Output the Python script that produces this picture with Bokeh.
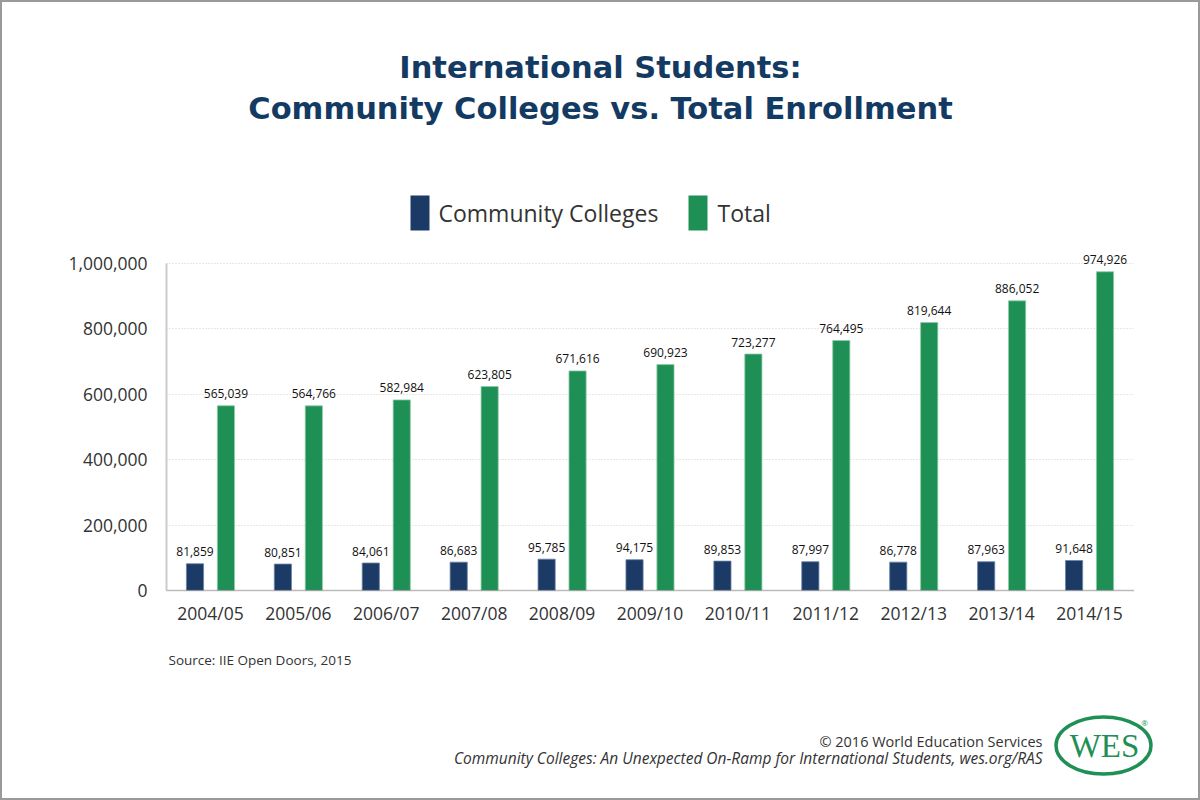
from bokeh.plotting import figure
from bokeh.layouts import column, row
from bokeh.models import (ColumnDataSource, FactorRange, Label, NumeralTickFormatter,
                          FixedTicker, Spacer, Range1d)
from bokeh.core.properties import value
from bokeh.transform import dodge
from bokeh.embed import file_html
from bokeh.resources import INLINE

years = ["2004/05", "2005/06", "2006/07", "2007/08", "2008/09", "2009/10",
         "2010/11", "2011/12", "2012/13", "2013/14", "2014/15"]
community = [81859, 80851, 84061, 86683, 95785, 94175, 89853, 87997, 86778, 87963, 91648]
total = [565039, 564766, 582984, 623805, 671616, 690923, 723277, 764495, 819644, 886052, 974926]
y_ticks = [0, 200000, 400000, 600000, 800000, 1000000]
series_names = ["Community Colleges", "Total"]

CC_COLOR = "#1b3a66"
TOT_COLOR = "#1f9055"
TITLE_COLOR = "#133a63"
TEXT_COLOR = "#333333"
BORDER = "#9a9a9a"
FONT = "Open Sans"


def blank_fig(h, y0, y1):
    f = figure(width=1196, height=h, x_range=Range1d(2, 1198), y_range=Range1d(y1, y0),
               output_backend="svg", toolbar_location=None, title=None,
               x_axis_location=None, y_axis_location=None, min_border=0)
    f.frame_align = False
    f.grid.visible = False
    f.outline_line_color = None
    f.border_fill_color = "white"
    f.background_fill_color = "white"
    return f


def lab(f, text, x, y, size, color=TEXT_COLOR, style="normal", align="left", font=FONT):
    # y is the visual baseline; compensate Bokeh's alphabetic placement
    px = float(size.replace("px", ""))
    f.add_layout(Label(text=text, x=x, y=y - 0.35 * px, text_font=font, text_font_size=size,
                       text_color=color, text_font_style=style, text_align=align,
                       text_baseline="alphabetic"))


# ---------- header: title + legend ----------
top = blank_fig(248, 2, 250)
lab(top, "International Students:", 600, 78, "30.5px", TITLE_COLOR, "bold", "center", "DejaVu Sans")
lab(top, "Community Colleges vs. Total Enrollment", 600, 119, "30.5px", TITLE_COLOR, "bold",
    "center", "DejaVu Sans")
top.quad(left=[410, 688], right=[429, 707], top=[195, 195], bottom=[230, 230],
         fill_color=[CC_COLOR, TOT_COLOR], line_color=None)
lab(top, series_names[0], 438, 221, "23px")
lab(top, series_names[1], 717, 221, "23px")

# ---------- main chart ----------
src = ColumnDataSource(dict(
    year=years, cc=community, tot=total,
    cc_lbl=[f"{v:,}" for v in community], tot_lbl=[f"{v:,}" for v in total],
))

p = figure(width=1196, height=390, x_range=FactorRange(*years, range_padding=0),
           y_range=(0, 1040000), output_backend="svg", toolbar_location=None,
           title=None, min_border_left=164, min_border_right=65,
           min_border_top=0, min_border_bottom=50)
p.frame_align = False
p.outline_line_color = None
p.background_fill_color = "white"
p.border_fill_color = "white"

p.vbar(x=dodge("year", -0.176, range=p.x_range), top="cc", width=0.195, source=src,
       fill_color=CC_COLOR, line_color="#6a82a3", line_width=0.8)
p.vbar(x=dodge("year", 0.176, range=p.x_range), top="tot", width=0.195, source=src,
       fill_color=TOT_COLOR, line_color="#8ccaa6", line_width=0.8)

p.text(x=dodge("year", -0.176, range=p.x_range), y="cc", text="cc_lbl", source=src,
       text_align="center", text_baseline="alphabetic", y_offset=-12,
       text_font=value(FONT), text_font_size="12px", text_color="#111111")
p.text(x=dodge("year", 0.176, range=p.x_range), y="tot", text="tot_lbl", source=src,
       text_align="center", text_baseline="alphabetic", y_offset=-12,
       text_font=value(FONT), text_font_size="12px", text_color="#111111")

p.xgrid.grid_line_color = None
p.ygrid.grid_line_color = "#cfcfcf"
p.ygrid.grid_line_dash = "1 2"
p.ygrid.ticker = FixedTicker(ticks=y_ticks)

p.yaxis.ticker = FixedTicker(ticks=y_ticks)
p.yaxis.formatter = NumeralTickFormatter(format="0,0")
p.yaxis.bounds = (0, 1000000)
p.yaxis.axis_line_color = "#cccccc"
p.yaxis.axis_line_width = 2
p.yaxis.major_tick_line_color = None
p.yaxis.minor_tick_line_color = None
p.yaxis.major_label_standoff = 13
p.yaxis.major_label_text_font = FONT
p.yaxis.major_label_text_font_size = "17.5px"
p.yaxis.major_label_text_color = TEXT_COLOR

p.xaxis.axis_line_color = "#777777"
p.xaxis.axis_line_dash = "1 1"
p.xaxis.axis_line_width = 1.5
p.xaxis.major_tick_line_color = None
p.xaxis.minor_tick_line_color = None
p.xaxis.major_label_standoff = 4
p.xaxis.major_label_text_font = FONT
p.xaxis.major_label_text_font_size = "17.5px"
p.xaxis.major_label_text_color = TEXT_COLOR

# ---------- footer ----------
bot = blank_fig(158, 640, 798)
lab(bot, "Source: IIE Open Doors, 2015", 168, 664, "13.5px")
lab(bot, "\u00a9 2016 World Education Services", 1042, 746, "14.5px", align="right")
lab(bot, "Community Colleges: An Unexpected On-Ramp for International Students, wes.org/RAS",
    1042, 763, "15.5px", style="italic", align="right")
bot.ellipse(x=[1103], y=[745], width=[95], height=[57], fill_color=None,
            line_color=TOT_COLOR, line_width=3.5)
lab(bot, "WES", 1104, 757, "33px", TOT_COLOR, align="center", font="Liberation Serif")
lab(bot, "\u00ae", 1144, 725, "8px", TOT_COLOR, align="center")

# ---------- frame border ----------
gs = {"background-color": BORDER}
layout = column(
    Spacer(width=1200, height=2, styles=gs),
    row(Spacer(width=2, height=796, styles=gs),
        column(top, p, bot, spacing=0),
        Spacer(width=2, height=796, styles=gs), spacing=0),
    Spacer(width=1200, height=2, styles=gs),
    spacing=0,
)

open("out.html", "w").write(file_html(layout, INLINE))
